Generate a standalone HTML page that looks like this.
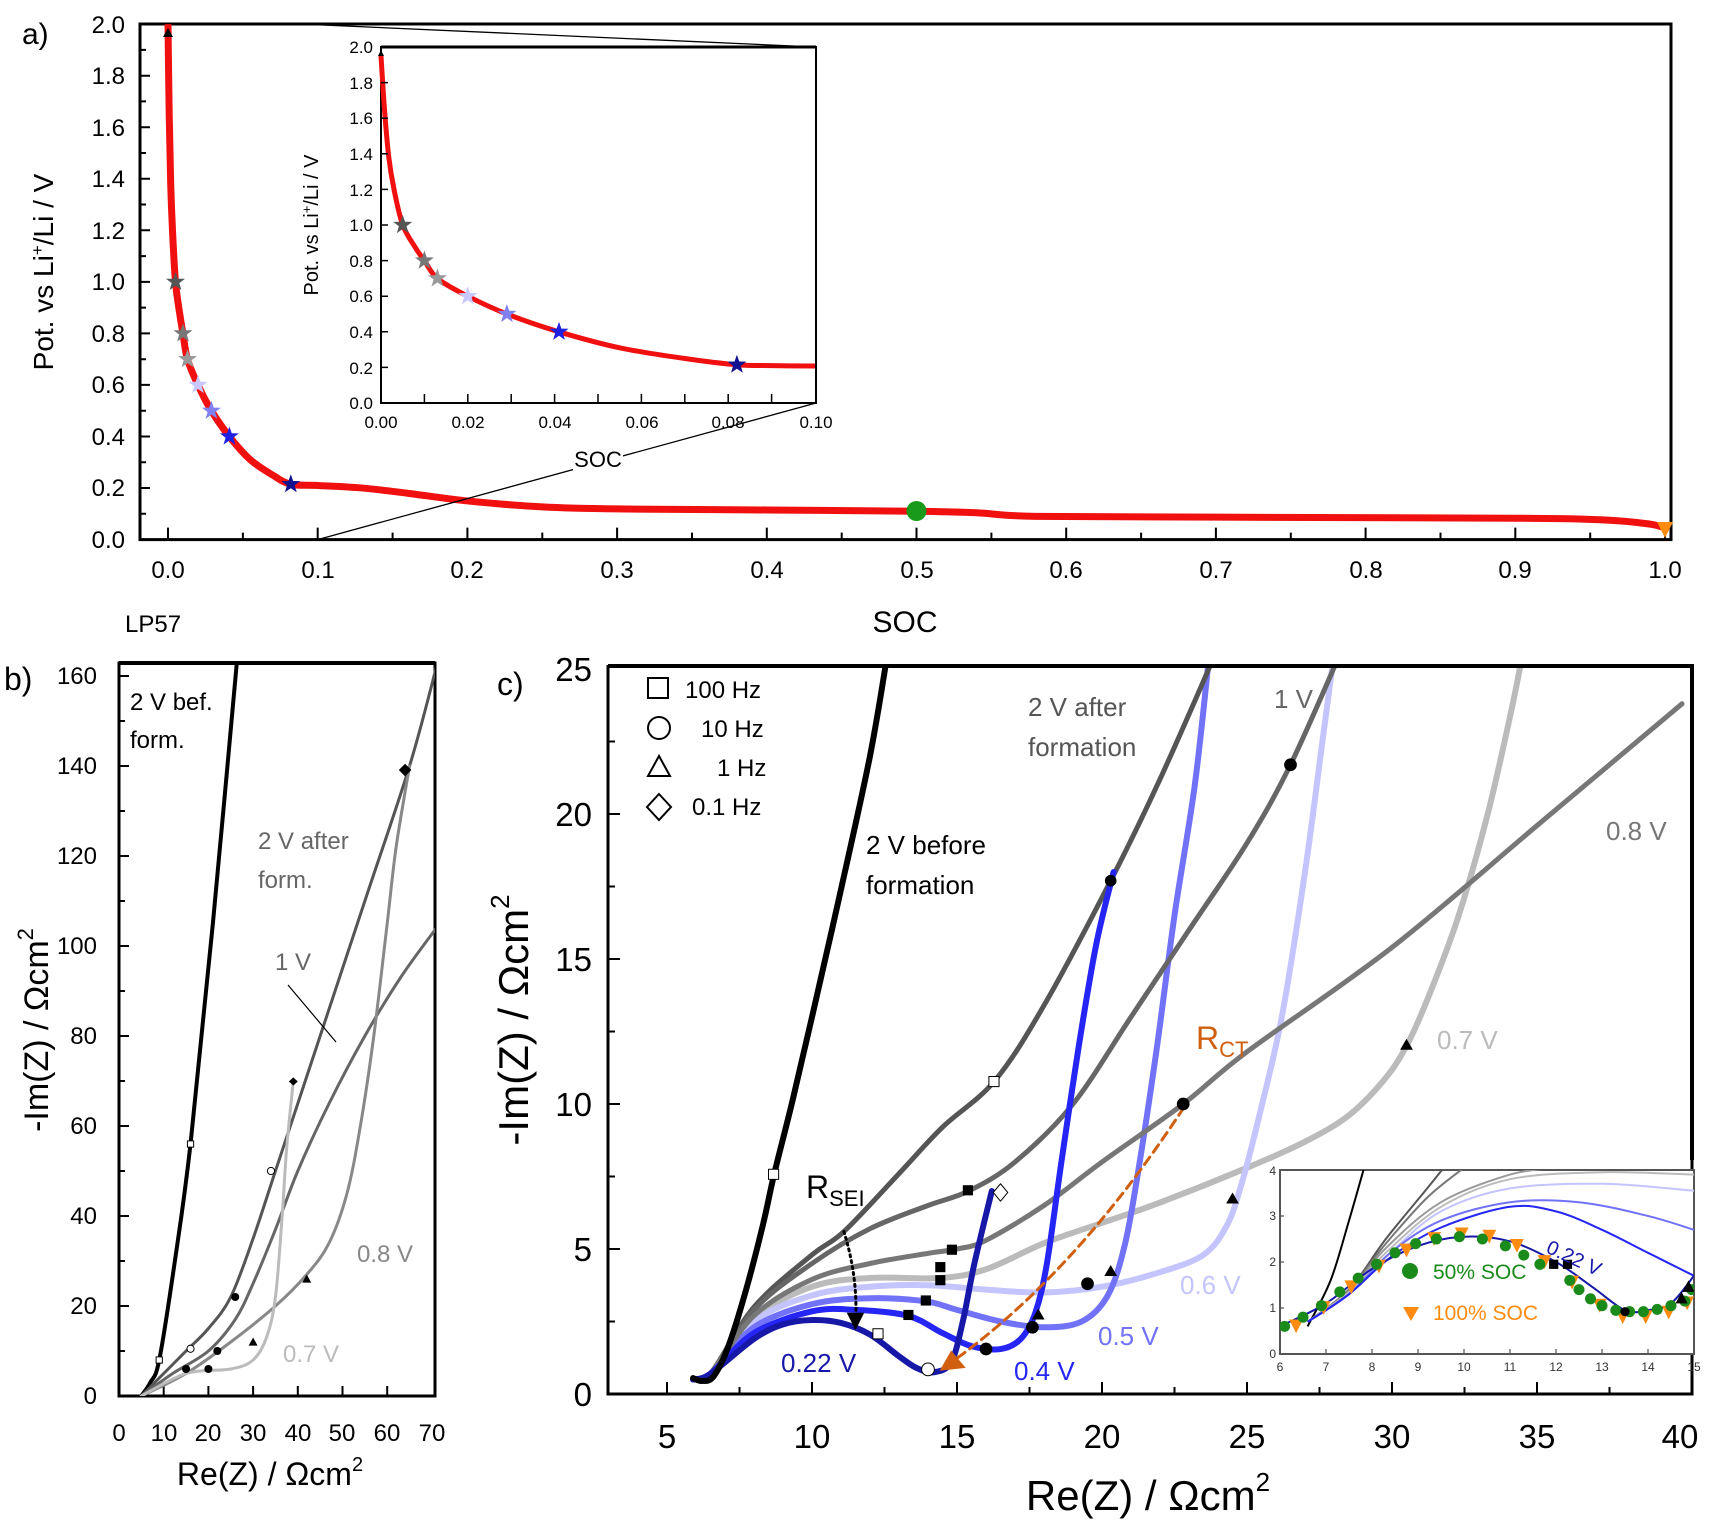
<!DOCTYPE html>
<html><head><meta charset="utf-8"><style>
html,body{margin:0;padding:0;background:#fff}
svg{display:block}
text{font-family:"Liberation Sans",sans-serif}
</style></head><body>
<svg width="1715" height="1526" viewBox="0 0 1715 1526" xmlns="http://www.w3.org/2000/svg">
<defs>
<polygon id="st" points="0,-10 2.35,-3.2 9.5,-3.1 3.8,1.2 5.9,8.1 0,4 -5.9,8.1 -3.8,1.2 -9.5,-3.1 -2.35,-3.2"/>
</defs>
<rect width="1715" height="1526" fill="#fff"/>

<!-- ============ PANEL A ============ -->
<text x="22" y="44" font-size="30">a)</text>
<rect x="140" y="24" width="1531" height="515.6" fill="none" stroke="#000" stroke-width="3"/>
<g stroke="#000" stroke-width="2">
<path d="M168,539.6v-12M317.7,539.6v-12M467.4,539.6v-12M617.1,539.6v-12M766.8,539.6v-12M916.5,539.6v-12M1066.2,539.6v-12M1215.9,539.6v-12M1365.6,539.6v-12M1515.3,539.6v-12M1665,539.6v-12"/>
<path d="M242.9,539.6v-7M392.6,539.6v-7M542.3,539.6v-7M692,539.6v-7M841.7,539.6v-7M991.4,539.6v-7M1141.1,539.6v-7M1290.8,539.6v-7M1440.5,539.6v-7M1590.2,539.6v-7"/>
<path d="M140,488h10M140,436.5h10M140,384.9h10M140,333.4h10M140,281.9h10M140,230.3h10M140,178.8h10M140,127.2h10M140,75.7h10"/>
<path d="M140,513.8h6M140,462.2h6M140,410.7h6M140,359.2h6M140,307.6h6M140,256.1h6M140,204.5h6M140,153h6M140,101.4h6M140,49.9h6"/>
</g>
<g font-size="24" text-anchor="end">
<text x="125" y="548">0.0</text><text x="125" y="496">0.2</text><text x="125" y="445">0.4</text><text x="125" y="393">0.6</text><text x="125" y="342">0.8</text><text x="125" y="290">1.0</text><text x="125" y="239">1.2</text><text x="125" y="187">1.4</text><text x="125" y="136">1.6</text><text x="125" y="84">1.8</text><text x="125" y="33">2.0</text>
</g>
<g font-size="24" text-anchor="middle">
<text x="168" y="578">0.0</text><text x="318" y="578">0.1</text><text x="467" y="578">0.2</text><text x="617" y="578">0.3</text><text x="767" y="578">0.4</text><text x="917" y="578">0.5</text><text x="1066" y="578">0.6</text><text x="1216" y="578">0.7</text><text x="1366" y="578">0.8</text><text x="1515" y="578">0.9</text><text x="1665" y="578">1.0</text>
</g>
<text x="905" y="632" font-size="30" text-anchor="middle">SOC</text>
<text x="125" y="632" font-size="24">LP57</text>
<text transform="translate(53,272) rotate(-90)" font-size="28" text-anchor="middle">Pot. vs Li<tspan font-size="17" dy="-10">+</tspan><tspan dy="10">/Li / V</tspan></text>

<g transform="translate(168,539.6) scale(1497,-257.7)">
<polyline class="sm" fill="none" stroke="#f01010" stroke-width="7" stroke-linejoin="round" vector-effect="non-scaling-stroke" points="0,2 0.0008,1.65 0.0018,1.38 0.003,1.2 0.005,1.0 0.008,0.87 0.01,0.8 0.013,0.7 0.02,0.6 0.029,0.5 0.041,0.4 0.055,0.31 0.07,0.25 0.082,0.215 0.1,0.21 0.13,0.2 0.16,0.18 0.2,0.15 0.25,0.127 0.3,0.119 0.4,0.115 0.5,0.11 0.54,0.104 0.58,0.09 0.7,0.087 0.9,0.083 0.96,0.076 0.99,0.06 1.0,0.045"/>
</g>
<path d="M168,28l-5,9h10z" fill="#000"/>
<path d="M300,24L816,47M317.7,539.6L816,403" stroke="#000" stroke-width="1.3" fill="none"/>
<rect x="573" y="445" width="50" height="26" fill="#fff"/>
<text x="598" y="467" font-size="22" text-anchor="middle">SOC</text>
<rect x="381" y="47" width="435" height="356" fill="#fff" stroke="#000" stroke-width="2"/>
<path d="M381,47h435" stroke="#000" stroke-width="3"/>
<g transform="translate(381,403) scale(4340,-178)">
<polyline class="sm" fill="none" stroke="#f01010" stroke-width="5" stroke-linejoin="round" vector-effect="non-scaling-stroke" points="0,1.95 0.0008,1.65 0.0018,1.38 0.003,1.2 0.005,1.0 0.008,0.87 0.01,0.8 0.013,0.7 0.02,0.6 0.029,0.5 0.041,0.4 0.055,0.31 0.07,0.25 0.082,0.215 0.09,0.21 0.1,0.208"/>
</g>
<g stroke="#000" stroke-width="1.5">
<path d="M381,403v-9M424.4,403v-9M467.8,403v-9M511.2,403v-9M554.6,403v-9M598,403v-9M641.4,403v-9M684.8,403v-9M728.2,403v-9M771.6,403v-9"/>
<path d="M381,367.4h7M381,331.8h7M381,296.2h7M381,260.6h7M381,225h7M381,189.4h7M381,153.8h7M381,118.2h7M381,82.6h7"/>
</g>
<g font-size="17" text-anchor="end">
<text x="373" y="409">0.0</text><text x="373" y="374">0.2</text><text x="373" y="338">0.4</text><text x="373" y="302">0.6</text><text x="373" y="267">0.8</text><text x="373" y="231">1.0</text><text x="373" y="196">1.2</text><text x="373" y="160">1.4</text><text x="373" y="124">1.6</text><text x="373" y="89">1.8</text><text x="373" y="53">2.0</text>
</g>
<g font-size="17" text-anchor="middle">
<text x="381" y="428">0.00</text><text x="468" y="428">0.02</text><text x="555" y="428">0.04</text><text x="642" y="428">0.06</text><text x="728" y="428">0.08</text><text x="816" y="428">0.10</text>
</g>
<text transform="translate(318,225) rotate(-90)" font-size="20" text-anchor="middle">Pot. vs Li<tspan font-size="13" dy="-7">+</tspan><tspan dy="7">/Li / V</tspan></text>
<path d="M381,50l-3,6h6z" fill="#000"/>
<use href="#st" x="175.5" y="281.9" fill="#555"/>
<use href="#st" x="183" y="333.4" fill="#777"/>
<use href="#st" x="187.5" y="359.2" fill="#999"/>
<use href="#st" x="198" y="385" fill="#c8c8ff"/>
<use href="#st" x="211.4" y="410.8" fill="#8080f0"/>
<use href="#st" x="229.4" y="436.5" fill="#2020e0"/>
<use href="#st" x="290.8" y="484.2" fill="#101090"/>
<use href="#st" x="402.7" y="225" fill="#555"/>
<use href="#st" x="424.4" y="260.6" fill="#777"/>
<use href="#st" x="437.4" y="278.4" fill="#999"/>
<use href="#st" x="467.8" y="296.2" fill="#c8c8ff"/>
<use href="#st" x="506.9" y="314" fill="#8080f0"/>
<use href="#st" x="559" y="331.8" fill="#2020e0"/>
<use href="#st" x="736.9" y="364.7" fill="#101090"/>
<ellipse cx="916.5" cy="511" rx="10" ry="10" fill="#1a9a1a"/>
<path d="M1657,522h16l-8,16z" fill="#ff8c10"/>

<!-- ============ PANEL B ============ -->
<text x="4" y="690" font-size="32">b)</text>
<rect x="119" y="663" width="316" height="733" fill="none" stroke="#000" stroke-width="3"/>
<path d="M119,663h316" stroke="#000" stroke-width="4"/>
<g stroke="#000" stroke-width="2">
<path d="M163.7,1396v-10M208.4,1396v-10M253.1,1396v-10M297.8,1396v-10M342.5,1396v-10M387.2,1396v-10"/>
<path d="M119,1306h10M119,1216h10M119,1126h10M119,1036h10M119,946h10M119,856h10M119,766h10M119,676h10"/>
<path d="M119,1351h6M119,1261h6M119,1171h6M119,1081h6M119,991h6M119,901h6M119,811h6M119,721h6"/>
</g>
<g font-size="24" text-anchor="end">
<text x="97" y="1404">0</text><text x="97" y="1314">20</text><text x="97" y="1224">40</text><text x="97" y="1134">60</text><text x="97" y="1044">80</text><text x="97" y="954">100</text><text x="97" y="864">120</text><text x="97" y="774">140</text><text x="97" y="684">160</text>
</g>
<g font-size="24" text-anchor="middle">
<text x="119" y="1441">0</text><text x="164" y="1441">10</text><text x="208" y="1441">20</text><text x="253" y="1441">30</text><text x="298" y="1441">40</text><text x="342" y="1441">50</text><text x="387" y="1441">60</text><text x="432" y="1441">70</text>
</g>
<text x="270" y="1485" font-size="32" text-anchor="middle">Re(Z) / Ωcm<tspan font-size="20" dy="-14">2</tspan></text>
<text transform="translate(48,1030) rotate(-90)" font-size="34" text-anchor="middle">-Im(Z) / Ωcm<tspan font-size="22" dy="-15">2</tspan></text>
<svg x="119" y="663" width="316" height="733" overflow="hidden">
<g transform="translate(0,733) scale(4.47,-4.5)" fill="none" stroke-linejoin="round" stroke-linecap="round">
<polyline class="sm" stroke="#000" stroke-width="4" vector-effect="non-scaling-stroke" points="5,0 7,3 9,8 12.5,30 16,56 21,105 27,170"/>
<polyline class="sm" stroke="#555" stroke-width="3" vector-effect="non-scaling-stroke" points="5,0 10,5 15,10 20,15 25,22 30,35 35,50 45,80 55,110 65,140 71,162"/>
<polyline class="sm" stroke="#666" stroke-width="3" vector-effect="non-scaling-stroke" points="5,0 12,5 20,10 26,17 30,25 35,37 40,50 47,65 55,80 63,93 71,104"/>
<polyline class="sm" stroke="#888" stroke-width="3" vector-effect="non-scaling-stroke" points="5,0 15,5 25,12 35,20 42,27 47,34 51,45 54,60 57,80 60,105 62,122 65,140"/>
<polyline class="sm" stroke="#bbb" stroke-width="3" vector-effect="non-scaling-stroke" points="5,0 15,5 25,6 30,8 33,13 35,22 36.5,40 37.5,55 39,70"/>
<rect x="15.3" y="55.3" width="1.4" height="1.4" fill="#fff" stroke="#000" stroke-width="1" vector-effect="non-scaling-stroke"/>
<rect x="8.3" y="7.3" width="1.4" height="1.4" fill="#fff" stroke="#000" stroke-width="1" vector-effect="non-scaling-stroke"/>
<circle cx="34" cy="50" r="0.8" fill="#fff" stroke="#000" vector-effect="non-scaling-stroke"/>
<circle cx="16" cy="10.5" r="0.8" fill="#fff" stroke="#000" vector-effect="non-scaling-stroke"/>
<circle cx="26" cy="22" r="0.9" fill="#000"/>
<circle cx="22" cy="10" r="0.9" fill="#000"/>
<circle cx="20" cy="6" r="0.9" fill="#000"/>
<circle cx="15" cy="6" r="0.9" fill="#000"/>
<path d="M39,70.8l1,-0.9l-1,-0.9l-1,0.9z" fill="#000"/>
<path d="M64,140.5l1.4,-1.4l-1.4,-1.4l-1.4,1.4z" fill="#000"/>
<path d="M42,27l1,-1.8h-2z" fill="#000"/>
<path d="M30,13l1,-1.8h-2z" fill="#000"/>
</g>
</svg>
<path d="M288,985L336,1042" stroke="#000" stroke-width="1.2"/>
<g font-size="24" fill="#000">
<text x="130" y="710">2 V bef.</text><text x="130" y="748">form.</text>
</g>
<g font-size="24" fill="#666">
<text x="258" y="849">2 V after</text><text x="258" y="888">form.</text>
<text x="275" y="970">1 V</text>
<text x="357" y="1262" fill="#888">0.8 V</text>
<text x="283" y="1362" fill="#bbb">0.7 V</text>
</g>

<!-- ============ PANEL C ============ -->
<text x="497" y="695" font-size="32">c)</text>
<g stroke="#000" stroke-width="2">
<path d="M667,1394v-12M812,1394v-12M957,1394v-12M1102,1394v-12M1247,1394v-12M1392,1394v-12M1537,1394v-12"/>
<path d="M739.5,1394v-7M884.5,1394v-7M1029.5,1394v-7M1174.5,1394v-7M1319.5,1394v-7M1464.5,1394v-7M1609.5,1394v-7"/>
<path d="M608,1249h12M608,1104h12M608,959h12M608,814h12"/>
<path d="M608,1321.5h7M608,1176.5h7M608,1031.5h7M608,886.5h7M608,741.5h7"/>
</g>
<g font-size="33" text-anchor="end">
<text x="592" y="1406">0</text><text x="592" y="1261">5</text><text x="592" y="1116">10</text><text x="592" y="971">15</text><text x="592" y="826">20</text><text x="592" y="681">25</text>
</g>
<g font-size="33" text-anchor="middle">
<text x="667" y="1448">5</text><text x="812" y="1448">10</text><text x="957" y="1448">15</text><text x="1102" y="1448">20</text><text x="1247" y="1448">25</text><text x="1392" y="1448">30</text><text x="1537" y="1448">35</text><text x="1680" y="1448">40</text>
</g>
<text x="1148" y="1510" font-size="42" text-anchor="middle">Re(Z) / Ωcm<tspan font-size="26" dy="-19">2</tspan></text>
<text transform="translate(528,1020) rotate(-90)" font-size="42" text-anchor="middle">-Im(Z) / Ωcm<tspan font-size="26" dy="-19">2</tspan></text>
<svg x="608" y="665" width="1084" height="729" overflow="hidden">
<g transform="translate(59,729) scale(29,-29) translate(-5,0)" fill="none" stroke-linejoin="round" stroke-linecap="round">
<polyline class="sm" stroke="#bbb" stroke-width="6" vector-effect="non-scaling-stroke" points="5.9,0.5 6.5,0.7 8,2.6 10,3.7 12,4.0 14.4,4.0 16,4.3 18,5.2 20,5.9 22,6.6 25,7.8 27,8.7 28.5,9.6 29.7,10.8 30.5,12 31.3,13.8 32.3,16.5 33.3,20 34.1,23.5 34.5,25.5"/>
<polyline class="sm" stroke="#c4c4ff" stroke-width="6" vector-effect="non-scaling-stroke" points="5.9,0.5 6.5,0.7 8,2.5 10,3.4 12,3.7 14,3.75 16,3.6 18,3.5 20,3.7 22,4.2 23.5,4.8 24.3,5.8 24.8,7.2 25.4,9.5 26.2,13 27,18 27.6,22.5 28,25.5"/>
<polyline class="sm" stroke="#7272f8" stroke-width="6" vector-effect="non-scaling-stroke" points="5.9,0.5 6.5,0.7 8,2.3 10,3.1 12,3.3 13.9,3.2 15,2.9 16.5,2.5 18,2.3 19.3,2.5 20.2,3.4 20.8,5.2 21.3,8 21.9,12 22.5,16.5 23.2,21 23.7,25.5"/>
<polyline class="sm" stroke="#555" stroke-width="5" vector-effect="non-scaling-stroke" points="5.9,0.5 6.5,0.7 8,3.0 10,4.8 11.1,5.6 13,7.6 14.5,9.2 16.3,10.8 18,13.4 20.3,17.7 22,21.2 23.9,25.5"/>
<polyline class="sm" stroke="#666" stroke-width="5" vector-effect="non-scaling-stroke" points="5.9,0.5 6.5,0.7 8,2.9 10,4.5 12,5.7 14,6.5 15.4,7.0 17,8 19,10 21,13 23,16 25,19 26.5,21.7 28.2,25.5"/>
<polyline class="sm" stroke="#777" stroke-width="5" vector-effect="non-scaling-stroke" points="5.9,0.5 6.5,0.7 8,2.7 10,3.95 12,4.5 14,4.85 15,5.0 16,5.3 18,6.5 20,8 22.8,10 25,11.8 30,15.4 35,19.6 40,23.8"/>
<polyline class="sm" stroke="#2525f5" stroke-width="6" vector-effect="non-scaling-stroke" points="5.9,0.5 6.5,0.7 8,2.1 10,2.85 11.5,2.9 13.3,2.7 14.5,2.1 15.5,1.65 16.5,1.55 17.2,1.9 17.7,2.8 18.1,4.5 18.6,8 19.2,12 19.8,15.5 20.4,18"/>
<polyline class="sm" stroke="#1818a8" stroke-width="6" vector-effect="non-scaling-stroke" points="5.9,0.5 6.5,0.7 8,1.9 9,2.4 10,2.55 11,2.45 12,2.05 13,1.3 13.6,0.9 14.2,0.75 14.8,1.1 15.2,2.5 15.6,4.5 16.2,7"/>
<polyline class="sm" stroke="#000" stroke-width="6" vector-effect="non-scaling-stroke" points="5.9,0.55 6.2,0.45 6.6,0.6 7.1,1.6 7.7,3.5 8.3,5.8 8.7,7.6 9.3,10 10,13 11,17.4 12,22 12.6,25.5"/>
<path d="M14.6,0.95 Q19,4 22.9,10" stroke="#d06010" stroke-width="3" stroke-dasharray="9,6" vector-effect="non-scaling-stroke"/>
<path d="M14.4,0.8l0.9,0.1l-0.5,0.6z" fill="#d06010"/>
<path d="M11.1,5.6 Q11.6,4 11.5,2.4" stroke="#000" stroke-width="3" stroke-dasharray="2,4" vector-effect="non-scaling-stroke"/>
<path d="M11.5,2.2l-0.3,0.6h0.6z" fill="#000"/>
<g fill="#000">
<rect x="8.5" y="7.4" width="0.35" height="0.35" fill="#fff" stroke="#000" vector-effect="non-scaling-stroke"/>
<rect x="16.1" y="10.6" width="0.35" height="0.35" fill="#fff" stroke="#000" vector-effect="non-scaling-stroke"/>
<rect x="15.2" y="6.85" width="0.35" height="0.35"/>
<rect x="14.65" y="4.8" width="0.35" height="0.35"/>
<rect x="14.25" y="4.2" width="0.35" height="0.35"/>
<rect x="14.25" y="3.75" width="0.35" height="0.35"/>
<rect x="13.75" y="3.05" width="0.35" height="0.35"/>
<rect x="13.15" y="2.55" width="0.35" height="0.35"/>
<rect x="12.1" y="1.9" width="0.35" height="0.35" fill="#fff" stroke="#000" vector-effect="non-scaling-stroke"/>
<circle cx="14" cy="0.85" r="0.22" fill="#fff" stroke="#000" vector-effect="non-scaling-stroke"/>
<circle cx="16" cy="1.55" r="0.22"/>
<circle cx="17.6" cy="2.3" r="0.22"/>
<circle cx="19.5" cy="3.8" r="0.22"/>
<circle cx="22.8" cy="10" r="0.22"/>
<circle cx="26.5" cy="21.7" r="0.22"/>
<circle cx="20.3" cy="17.7" r="0.2"/>
<path d="M16.5,7.25l0.25,-0.3l-0.25,-0.3l-0.25,0.3z" fill="#fff" stroke="#000" vector-effect="non-scaling-stroke"/>
<path d="M30.5,12.25l0.22,-0.38h-0.44z"/>
<path d="M24.5,6.95l0.22,-0.38h-0.44z"/>
<path d="M20.3,4.45l0.22,-0.38h-0.44z"/>
<path d="M17.8,2.95l0.22,-0.38h-0.44z"/>
</g>
</g>
</svg>
<path d="M608,665V1394H1692V1160" fill="none" stroke="#000" stroke-width="3"/>
<path d="M608,666H1692V1160" fill="none" stroke="#000" stroke-width="4"/>
<g font-size="24">
<rect x="648" y="678" width="20" height="20" fill="none" stroke="#000" stroke-width="2"/><text x="685" y="698">100 Hz</text>
<circle cx="659" cy="728" r="11" fill="none" stroke="#000" stroke-width="2"/><text x="701" y="737">10 Hz</text>
<path d="M648,776l11,-20l11,20z" fill="none" stroke="#000" stroke-width="2"/><text x="717" y="776">1 Hz</text>
<path d="M659,794l12,13l-12,13l-12,-13z" fill="none" stroke="#000" stroke-width="2"/><text x="692" y="815">0.1 Hz</text>
</g>
<g font-size="26">
<text x="866" y="854">2 V before</text><text x="866" y="894">formation</text>
<text x="1028" y="716" fill="#555">2 V after</text><text x="1028" y="756" fill="#555">formation</text>
<text x="1274" y="708" fill="#666">1 V</text>
<text x="1606" y="840" fill="#777">0.8 V</text>
<text x="1437" y="1049" fill="#bbb">0.7 V</text>
<text x="1180" y="1294" fill="#c4c4ff">0.6 V</text>
<text x="1098" y="1345" fill="#7272f8">0.5 V</text>
<text x="1014" y="1380" fill="#2525f5">0.4 V</text>
<text x="781" y="1372" fill="#1818a8">0.22 V</text>
<text x="1196" y="1049" fill="#d06010" font-size="32">R<tspan font-size="22" dy="8">CT</tspan></text>
<text x="806" y="1198" font-size="32">R<tspan font-size="22" dy="8">SEI</tspan></text>
</g>
<rect x="1280" y="1170" width="414" height="184" fill="#fff" stroke="#555" stroke-width="2"/>
<svg x="1280" y="1170" width="414" height="184" overflow="hidden">
<g transform="translate(0,184) scale(46,-46) translate(-6,0)" fill="none" stroke-linejoin="round">
<polyline class="sm" stroke="#000" stroke-width="2" vector-effect="non-scaling-stroke" points="6.6,0.6 7.1,1.6 7.5,2.9 7.9,4.3"/>
<polyline class="sm" stroke="#555" stroke-width="2" vector-effect="non-scaling-stroke" points="6.6,0.7 7.5,1.4 8.3,2.5 9.2,3.6 9.6,4.1"/>
<polyline class="sm" stroke="#777" stroke-width="2" vector-effect="non-scaling-stroke" points="6.6,0.7 7.5,1.4 8.3,2.4 9.2,3.4 10,4.05"/>
<polyline class="sm" stroke="#999" stroke-width="2" vector-effect="non-scaling-stroke" points="6.6,0.7 7.5,1.35 8.3,2.3 9.5,3.3 11,3.9 12,4.05"/>
<polyline class="sm" stroke="#bbb" stroke-width="2" vector-effect="non-scaling-stroke" points="6.6,0.7 7.5,1.35 8.3,2.2 9.5,3.2 11,3.8 13,3.95 15,3.9"/>
<polyline class="sm" stroke="#c4c4ff" stroke-width="2" vector-effect="non-scaling-stroke" points="6.6,0.7 7.5,1.3 8.4,2.2 9.5,3.1 11,3.6 13,3.7 15,3.55"/>
<polyline class="sm" stroke="#7272f8" stroke-width="2" vector-effect="non-scaling-stroke" points="6.6,0.7 7.5,1.3 8.4,2.2 9.5,2.9 11,3.3 12.5,3.3 14,3.0 15,2.7"/>
<polyline class="sm" stroke="#2525f5" stroke-width="2" vector-effect="non-scaling-stroke" points="6.6,0.7 7.5,1.3 8.4,2.1 9.5,2.75 11,3.2 12,3.1 13,2.7 14,2.2 15,1.7"/>
<polyline class="sm" stroke="#1818a8" stroke-width="2" vector-effect="non-scaling-stroke" points="6,0.6 7,1.1 8,1.85 9,2.35 10,2.55 11,2.45 12,2.0 12.8,1.45 13.5,0.95 14,0.95 14.5,1.1 15,1.7"/>
<g fill="#ff8c10" stroke="none">
<path d="M6.2,0.75h0.3l-0.15,-0.3z M6.8,1.15h0.3l-0.15,-0.3z M7.4,1.6h0.3l-0.15,-0.3z M8,2.05h0.3l-0.15,-0.3z M8.6,2.4h0.3l-0.15,-0.3z M9.2,2.65h0.3l-0.15,-0.3z M9.8,2.75h0.3l-0.15,-0.3z M10.4,2.7h0.3l-0.15,-0.3z M11,2.5h0.3l-0.15,-0.3z M11.6,2.15h0.3l-0.15,-0.3z M12.2,1.7h0.3l-0.15,-0.3z M12.8,1.2h0.3l-0.15,-0.3z M13.3,0.95h0.3l-0.15,-0.3z M13.8,0.95h0.3l-0.15,-0.3z M14.3,1.05h0.3l-0.15,-0.3z M14.7,1.25h0.3l-0.15,-0.3z"/>
</g>
<g fill="#1a8a1a" stroke="none">
<circle cx="6.1" cy="0.6" r="0.12"/><circle cx="6.5" cy="0.8" r="0.12"/><circle cx="6.9" cy="1.05" r="0.12"/><circle cx="7.3" cy="1.35" r="0.12"/><circle cx="7.7" cy="1.65" r="0.12"/><circle cx="8.1" cy="1.95" r="0.12"/><circle cx="8.5" cy="2.2" r="0.12"/><circle cx="8.95" cy="2.4" r="0.12"/><circle cx="9.4" cy="2.5" r="0.12"/><circle cx="9.9" cy="2.55" r="0.12"/><circle cx="10.4" cy="2.5" r="0.12"/><circle cx="10.9" cy="2.35" r="0.12"/><circle cx="11.3" cy="2.15" r="0.12"/><circle cx="11.65" cy="1.95" r="0.12"/><circle cx="12.3" cy="1.6" r="0.12"/><circle cx="12.5" cy="1.4" r="0.12"/><circle cx="12.75" cy="1.2" r="0.12"/><circle cx="13" cy="1.05" r="0.12"/><circle cx="13.3" cy="0.95" r="0.12"/><circle cx="13.6" cy="0.92" r="0.12"/><circle cx="13.9" cy="0.92" r="0.12"/><circle cx="14.2" cy="0.97" r="0.12"/><circle cx="14.5" cy="1.05" r="0.12"/><circle cx="14.8" cy="1.15" r="0.12"/><circle cx="14.95" cy="1.4" r="0.12"/>
</g>
<g fill="#000" stroke="none">
<rect x="11.85" y="1.85" width="0.2" height="0.2"/><rect x="12.15" y="1.85" width="0.2" height="0.2"/>
<circle cx="13.5" cy="0.92" r="0.1"/>
<path d="M14.6,1.1h0.26l-0.13,0.25z M14.75,1.35h0.26l-0.13,0.25z"/>
</g>
</g>
</svg>
<g stroke="#555" stroke-width="1.2">
<path d="M1280,1354v-5M1326,1354v-5M1372,1354v-5M1418,1354v-5M1464,1354v-5M1510,1354v-5M1556,1354v-5M1602,1354v-5M1648,1354v-5"/>
<path d="M1280,1308h4M1280,1262h4M1280,1216h4"/>
</g>
<g font-size="12" fill="#333" text-anchor="middle">
<text x="1280" y="1371">6</text><text x="1326" y="1371">7</text><text x="1372" y="1371">8</text><text x="1418" y="1371">9</text><text x="1464" y="1371">10</text><text x="1510" y="1371">11</text><text x="1556" y="1371">12</text><text x="1602" y="1371">13</text><text x="1648" y="1371">14</text><text x="1694" y="1371">15</text>
</g>
<g font-size="12" fill="#333" text-anchor="end">
<text x="1276" y="1358">0</text><text x="1276" y="1312">1</text><text x="1276" y="1266">2</text><text x="1276" y="1220">3</text><text x="1276" y="1175">4</text>
</g>
<circle cx="1410" cy="1271" r="8" fill="#1a8a1a"/>
<text x="1433" y="1279" font-size="21" fill="#1a8a1a">50% SOC</text>
<path d="M1403,1307h16l-8,14z" fill="#ff8c10"/>
<text x="1433" y="1320" font-size="21" fill="#ff8c10">100% SOC</text>
<text transform="translate(1545,1252) rotate(25)" font-size="20" fill="#1818a8">0.22 V</text>
</svg>
<script>
document.querySelectorAll('polyline.sm').forEach(function(pl){
  var a=pl.getAttribute('points').trim().split(/\s+/).map(function(s){return s.split(',').map(Number);});
  if(a.length<3)return;
  var d='M'+a[0][0]+','+a[0][1];
  for(var i=0;i<a.length-1;i++){
    var p0=a[i>0?i-1:0],p1=a[i],p2=a[i+1],p3=a[i+2<a.length?i+2:i+1];
    var c1=[p1[0]+(p2[0]-p0[0])/6,p1[1]+(p2[1]-p0[1])/6];
    var c2=[p2[0]-(p3[0]-p1[0])/6,p2[1]-(p3[1]-p1[1])/6];
    d+='C'+c1[0]+','+c1[1]+' '+c2[0]+','+c2[1]+' '+p2[0]+','+p2[1];
  }
  var p=document.createElementNS('http://www.w3.org/2000/svg','path');
  for(var j=0;j<pl.attributes.length;j++){var at=pl.attributes[j];if(at.name!=='points'&&at.name!=='class')p.setAttribute(at.name,at.value);}
  p.setAttribute('d',d);
  pl.parentNode.replaceChild(p,pl);
});
</script>
</body></html>
